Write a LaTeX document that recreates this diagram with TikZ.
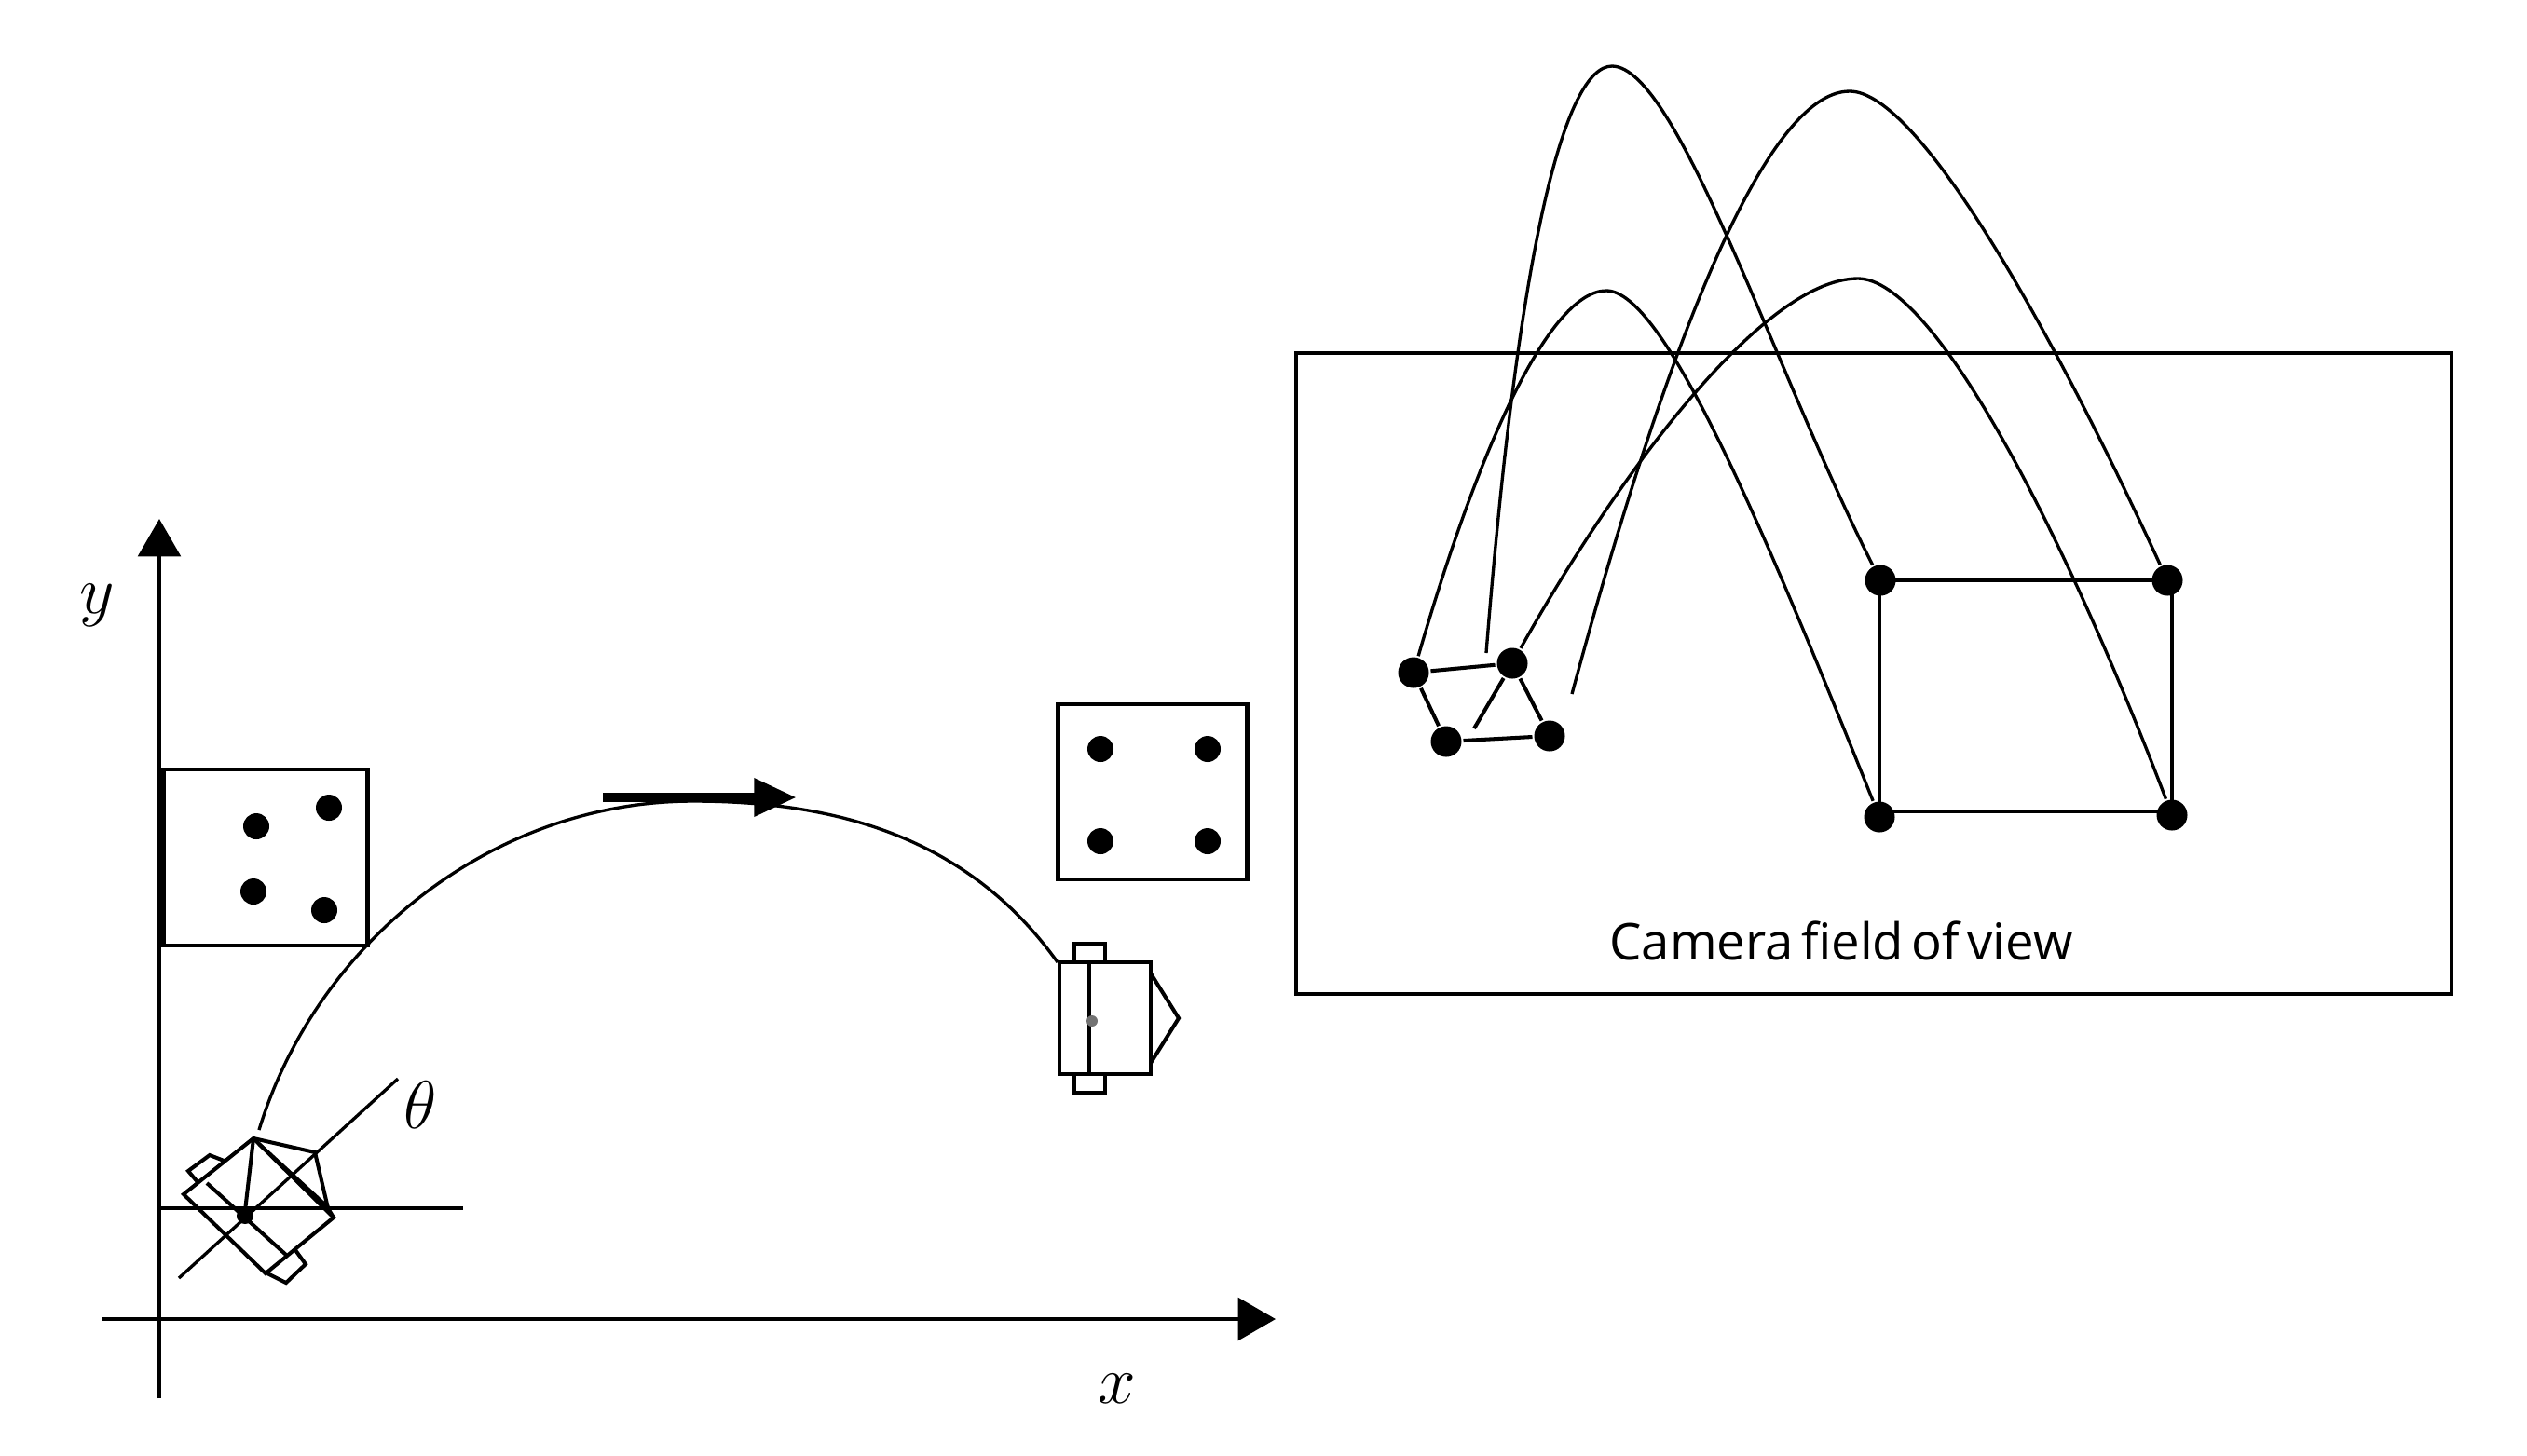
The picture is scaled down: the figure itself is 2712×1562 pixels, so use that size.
\documentclass[tikz,border=0pt]{standalone}
\usepackage{amsmath}
\usepackage{fontspec}
\setsansfont{Open Sans}[WordSpace=0.6]
\usetikzlibrary{arrows.meta}
\begin{document}
\begin{tikzpicture}[x=0.01cm, y=-0.01cm, line width=1.15pt,
        dot/.style={circle, fill=black, inner sep=0pt, minimum size=33*0.01cm},
        smalldot/.style={circle, fill=black, inner sep=0pt, minimum size=28*0.01cm},
        frame/.style={draw, inner sep=0pt},
        axis/.style={-{Triangle[length=11.5pt, width=13pt]}},
        trace/.style={line width=0.95pt},
        mathlabel/.style={font=\fontsize{21}{21}\selectfont}]
            \useasboundingbox (0,0) rectangle (2712,1562);
            \coordinate (origin y) at (171,1501);
            \coordinate (top y) at (171,557);
            \coordinate (origin x) at (109,1416);
            \coordinate (end x) at (1369,1416);
            \draw [axis] (origin y) -- (top y);
            \draw [axis] (origin x) -- (end x);
            \node [mathlabel] (ylabel) at (104,650) {$y$};
            \node [mathlabel] (xlabel) at (1199,1491) {$x$};
            \node [mathlabel] (thetalabel) at (451,1186) {$\theta$};

            \node [frame, minimum width=219*0.01cm, minimum height=189*0.01cm] (start box) at (285,920) {};
            \node [smalldot] (s1) at (275,887) {};
            \node [smalldot] (s2) at (353,867) {};
            \node [smalldot] (s3) at (272,957) {};
            \node [smalldot] (s4) at (348,977) {};
            \node [frame, minimum width=203*0.01cm, minimum height=188*0.01cm] (end box) at (1237,850) {};
            \node [smalldot] (e1) at (1181,804) {};
            \node [smalldot] (e2) at (1296,804) {};
            \node [smalldot] (e3) at (1181,903) {};
            \node [smalldot] (e4) at (1296,903) {};

            \coordinate (robot start) at (278,1213);
            \coordinate (robot end) at (1135,1033);
            \coordinate (motion a) at (647,856);
            \coordinate (motion b) at (855,856);
            \draw [trace] (robot start) .. controls (340,1010) and (530,860) .. (744,860)
                .. controls (900,860) and (1040,900) .. (robot end);
            \draw [line width=3pt, -{Triangle[length=13pt, width=11pt]}] (motion a) -- (motion b);

            \draw (197,1282) -- (272,1222) -- (358,1307) -- (285,1367) -- cycle;
            \draw (213,1270) -- (202,1257) -- (225,1240) -- (243,1247);
            \draw (287,1367) -- (307,1377) -- (328,1357) -- (317,1342);
            \draw (272,1222) -- (338,1237) -- (352,1297) -- (358,1307);
            \draw (278,1228) -- (353,1297);
            \draw (222,1270) -- (307,1347);
            \draw (272,1222) -- (263,1300);
            \draw [trace] (192,1372) -- (427,1158);
            \draw (173,1297) -- (497,1297);
            \node [circle, fill=black, inner sep=0pt, minimum size=18*0.01cm] (robot centre) at (263,1305) {};

            \draw (1137,1033) rectangle (1235,1153);
            \draw (1169,1033) -- (1169,1153);
            \draw (1153,1033) -- (1153,1013) -- (1186,1013) -- (1186,1033);
            \draw (1153,1153) -- (1153,1173) -- (1186,1173) -- (1186,1153);
            \draw (1235,1045) -- (1265,1093) -- (1235,1141);
            \node [circle, fill=black!55, inner sep=0pt, minimum size=12*0.01cm] (robot mark) at (1172,1096) {};

            \node [frame, minimum width=1240*0.01cm, minimum height=688*0.01cm] (camera view) at (2011,723) {};
            \node [font=\sffamily\fontsize{15.5}{15.5}\selectfont] (camera label) at (1976,1010) {Camera field of view};

            \node [frame, minimum width=314*0.01cm, minimum height=248*0.01cm] (target) at (2174,747) {};
            \node [dot] (tl) at (2018,623) {};
            \node [dot] (tr) at (2326,623) {};
            \node [dot] (bl) at (2017,877) {};
            \node [dot] (br) at (2331,875) {};
            \node [dot] (a) at (1517,722) {};
            \node [dot] (b) at (1623,712) {};
            \node [dot] (c) at (1552,796) {};
            \node [dot] (d) at (1663,790) {};
            \draw (a) -- (b);
            \draw (a) -- (c);
            \draw (c) -- (d);
            \draw (d) -- (b);
            \coordinate (b tail) at (1582,782);
            \coordinate (inner tail) at (1595,701);
            \coordinate (outer tail) at (1687,745);
            \draw (b) -- (b tail);
            \draw [trace] (a) .. controls (1590,470) and (1665,312) .. (1724,312)
                .. controls (1785,312) and (1890,560) .. (bl);
            \draw [trace] (b) .. controls (1730,520) and (1890,299) .. (1994,299)
                .. controls (2075,299) and (2215,570) .. (br);
            \draw [trace] (inner tail) .. controls (1630,260) and (1680,71) .. (1730,71)
                .. controls (1800,71) and (1905,400) .. (tl);
            \draw [trace] (outer tail) .. controls (1780,400) and (1890,98) .. (1985,98)
                .. controls (2060,98) and (2205,360) .. (tr);
        \end{tikzpicture}
\end{document}
